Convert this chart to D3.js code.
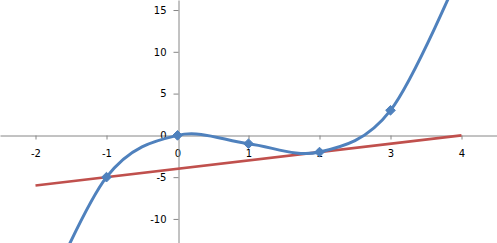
<!DOCTYPE html>
<html>
<head>
<meta charset="utf-8">
<script src="https://cdn.jsdelivr.net/npm/d3@7"></script>
<style>
  html, body { margin: 0; padding: 0; background: #fff; }
  svg { display: block; }
  .tick text { font-family: "DejaVu Sans", Verdana, sans-serif; font-size: 10px; fill: #000; }
</style>
</head>
<body>
<svg id="chart" width="497" height="243"></svg>
<script>
// Data
const curveX = [-2, -1, 0, 1, 2, 3, 4];
const curveY = [-22, -5, 0, -1, -2, 3, 20];
const lineX = [-2, 4];
const lineY = [-6, 0];
const xTicks = [-2, -1, 0, 1, 2, 3, 4];
const yTicks = [-10, -5, 0, 5, 10, 15];

const W = 497, H = 243;
const svg = d3.select("#chart");

const x = d3.scaleLinear().domain([-2.5, 4.5]).range([0, W]);
const y = d3.scaleLinear().domain([-13, 16.2]).range([244, 0]);

const axisColor = "#868686";

// X axis through y=0
const gx = svg.append("g")
  .attr("transform", `translate(0,${Math.round(y(0)) + 0.5})`)
  .call(d3.axisBottom(x).tickValues(xTicks).tickSize(4).tickSizeOuter(0).tickPadding(10)
    .tickFormat(d3.format("d")));
gx.select(".domain").attr("stroke", axisColor);
gx.selectAll(".tick line").attr("stroke", axisColor);

// Y axis through x=0
const gy = svg.append("g")
  .attr("transform", `translate(${Math.round(x(0)) + 0.5},0)`)
  .call(d3.axisLeft(y).tickValues(yTicks).tickSize(5).tickSizeOuter(0).tickPadding(7)
    .tickFormat(d3.format("d")));
gy.select(".domain").attr("stroke", axisColor);
gy.selectAll(".tick line").attr("stroke", axisColor);
gy.selectAll(".tick text").text(d => d < 0 ? "-" + Math.abs(d) : d);
gx.selectAll(".tick text").text(d => d < 0 ? "-" + Math.abs(d) : d);

// Red straight line
const lineData = lineX.map((v, i) => [v, lineY[i]]);
svg.append("path")
  .datum(lineData)
  .attr("fill", "none")
  .attr("stroke", "#C0504D")
  .attr("stroke-width", 2.75)
  .attr("d", d3.line().x(d => x(d[0])).y(d => y(d[1])));

// Blue smoothed curve
const curveData = curveX.map((v, i) => [v, curveY[i]]);
svg.append("path")
  .datum(curveData)
  .attr("fill", "none")
  .attr("stroke", "#4F81BD")
  .attr("stroke-width", 3)
  .attr("d", d3.line().curve(d3.curveCardinal.tension(0)).x(d => x(d[0])).y(d => y(d[1])));

// Diamond markers
svg.append("g").selectAll("path")
  .data(curveData)
  .join("path")
  .attr("transform", d => `translate(${x(d[0])},${y(d[1])})`)
  .attr("d", d3.symbol(d3.symbolDiamond2, 60)())
  .attr("fill", "#4F81BD")
  .attr("stroke", "#4F81BD")
  .attr("stroke-width", 1);
</script>
</body>
</html>
